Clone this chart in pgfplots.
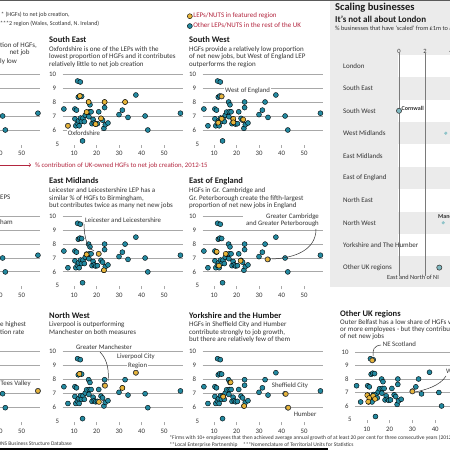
\documentclass[border=0pt]{standalone}
\usepackage{fontspec}
\setmainfont{Carlito}
\usepackage{pgfplots}
\pgfplotsset{compat=1.18}
\usepackage{pgfplotstable}
\definecolor{teal1}{HTML}{2389A0}
\definecolor{yel}{HTML}{E6B43A}
\definecolor{txt}{HTML}{333333}
\definecolor{ttl}{HTML}{1A1A1A}
\definecolor{gridc}{HTML}{A8A8A8}
\definecolor{vgrid}{HTML}{7A7A7A}
\definecolor{claret}{HTML}{B3263F}
\definecolor{panelbg}{HTML}{EBEBEB}
\definecolor{outl}{HTML}{3F3F3F}
\definecolor{lteal}{HTML}{8FC4C9}
\definecolor{cornf}{HTML}{7FB9C1}
\definecolor{topline}{HTML}{5A5A5A}
\newcommand\fs[1]{\fontsize{#1}{#1}\selectfont}

\pgfplotstableread{
x y
5.5 7.5
7.3 6.3
10.4 7.5
11.1 7.42
11.6 9.5
12.8 9.43
11.9 8.35
12.6 8.43
13.4 8.4
10.4 6.8
10.8 6.3
11.5 6.48
12.0 6.65
12.3 6.3
12.9 6.85
13.3 6.6
14.0 6.85
14.6 6.6
13.8 5.22
15.0 7.05
15.6 7.28
16.5 8.0
17.1 7.8
16.8 7.3
17.6 7.3
16.6 6.95
18.0 6.45
18.5 6.75
19.0 6.5
19.6 6.42
20.4 6.45
21.0 7.3
22.0 6.83
22.7 6.7
23.6 8.0
23.6 7.6
23.3 6.12
23.9 6.38
25.1 6.5
30.0 7.1
31.5 7.42
32.7 8.0
34.0 6.9
37.5 8.5
41.6 7.0
42.8 6.0
57.3 7.2
}\basepts

\pgfplotsset{
 tealp/.style={only marks, mark=*, mark size=2.5pt, mark options={fill=teal1, draw=none}},
 yelp/.style={only marks, mark=*, mark size=2.5pt, mark options={fill=yel, draw=none}},
 outp/.style={only marks, mark=*, mark size=2.5pt, mark options={fill=yel, draw=outl, line width=0.7pt}},
 dotlegend/.style={legend image code/.code={\draw[##1] plot coordinates {(0pt,0pt)};}},
 panel/.style={anchor=south west, xmin=4.9, xmax=58.3, ymin=4.95, ymax=10.05,
   axis x line*=bottom, axis y line*=left, axis line style={draw=none},
   xtick={10,20,30,40,50}, ytick={6,7,8,9,10},
   extra y ticks={5}, extra y tick style={grid=none, major tick length=0pt},
   ymajorgrids, major grid style={draw=gridc, line width=0.9pt},
   tick align=outside, major tick length=3pt,
   xtick style={draw=gridc, line width=0.5pt}, ytick style={draw=none},
   tick label style={font=\fs{6.8}, text=txt},
   /pgf/number format/assume math mode=true, clip=false},
 leftcol/.style={xtick={40,50}, yticklabels={}, extra y tick labels={}},
}
% #1 px of x=0, #2 py of y=10, #3 y unit, #4 x unit, #5 extra plots, #6 extra axis options
\newcommand\panel[6]{%
\begin{axis}[panel, x=#4pt, y=#3pt, at={({(#1+#4*4.9)*1pt},{(450-#2-5.05*#3)*1pt})}, #6]
\addplot[tealp, forget plot] table {\basepts};
#5
\end{axis}}
\newcommand\T[4][txt]{\node[anchor=base west, inner sep=0pt, text=#1] at (#2,450-#3) {#4};}
\tikzset{lab/.style={anchor=base west, inner sep=1pt, fill=white, text=txt, font=\fs{6.8}},
         lead/.style={draw=txt, line width=0.5pt}}

\begin{document}
\begin{tikzpicture}[x=1pt,y=1pt]
\begin{scope}
\clip (0,0) rectangle (450,450);
\fill[white] (0,0) rectangle (450,450);
\fill[panelbg] (330,163) rectangle (450,449);
\fill[topline] (0,448.7) rectangle (450,450);
\fill[black] (0,0) rectangle (328,2.4);

% ---- Row 1 ----
\panel{-91}{74}{14}{2.25}{}{leftcol}
\panel{51.5}{74}{14}{2.25}{%
 \addplot[yelp, forget plot] coordinates {(12.6,8.43)(16.5,8.0)(23.6,8.0)(32.7,8.0)(15.6,7.28)(22.0,6.83)(19.6,6.42)};
 \addplot[outp, forget plot] coordinates {(7.3,6.3)};
 \addlegendimage{yelp}\addlegendentry{LEPs/NUTS in featured region}
 \addlegendimage{tealp}\addlegendentry{Other LEPs/NUTS in the rest of the UK}
}{legend style={at={(1.037,1.861)}, anchor=north west, draw=none, fill=none, font=\fs{7}, text=claret, row sep=1.5pt, inner sep=0pt, nodes={inner sep=1pt}},
  legend cell align=left, dotlegend}
\panel{191.5}{74}{14}{2.25}{%
 \addplot[yelp, forget plot] coordinates {(11.9,6.52)(13.4,6.8)(18.6,6.8)(18.6,6.55)(23.0,6.75)};
 \addplot[outp, forget plot] coordinates {(13.4,8.4)};
}{}
% ---- Row 2 ----
\panel{-91}{216.3}{13.9}{2.25}{}{leftcol}
\panel{51.5}{216.3}{13.9}{2.25}{%
 \addplot[yelp, forget plot] coordinates {(15.6,7.25)(23.3,6.12)};
 \addplot[outp, forget plot] coordinates {(21.0,7.3)};
}{}
\panel{191.5}{216.3}{13.9}{2.25}{%
 \addplot[yelp, forget plot] coordinates {(11.2,7.45)(15.2,7.3)(12.2,6.45)(21.8,6.8)};
 \addplot[outp, forget plot] coordinates {(33.8,6.9)};
}{}
% ---- Row 3 ----
\panel{-91}{351.7}{14}{2.25}{%
 \addplot[outp, forget plot] coordinates {(57.3,7.2)};
}{leftcol}
\panel{51.5}{351.7}{14}{2.25}{%
 \addplot[yelp, forget plot] coordinates {(12.4,8.41)(31.5,7.41)(21.1,6.41)};
 \addplot[outp, forget plot] coordinates {(23.8,7.57)(37.5,8.5)};
}{}
\panel{191.5}{351.7}{14}{2.25}{%
 \addplot[yelp, forget plot] coordinates {(17.4,7.81)(14.1,6.79)(23.4,6.12)};
 \addplot[outp, forget plot] coordinates {(41.9,6.98)(43.0,6.0)};
}{}
\panel{344}{352}{13.5}{2.28}{%
 \addplot[yelp, forget plot] coordinates {(10.2,6.8)(11.1,6.6)(10.6,6.32)(12.8,6.75)(13.6,6.52)};
 \addplot[outp, forget plot] coordinates {(12.4,9.38)(30.0,7.08)};
}{}

% ---- Right panel: scaling businesses ----
\begin{axis}[anchor=south west, at={(398.35pt,171.2pt)}, x=13pt, y=22.4pt,
 xmin=-0.05, xmax=4, ymin=0.5, ymax=10.5, axis on top,
 axis x line*=top, axis y line*=left, axis line style={draw=none}, tick style={draw=none},
 xtick={0,2,4}, ytick={1,2,3,4,5,6,7,8,9,10},
 yticklabels={Other UK regions,Yorkshire and The Humber,North West,North East,East of England,East Midlands,West Midlands,South West,South East,London},
 clip=false,
 xticklabel style={font=\fs{6.5}, text=txt, inner sep=1pt},
 yticklabel style={font=\fs{7}, text=txt, anchor=west, inner sep=0pt, xshift=-55.4pt},
 /pgf/number format/assume math mode=true]
\addplot[draw=none, fill=white, forget plot] coordinates {(-0.05,9.5)(4,9.5)(4,10.5)(-0.05,10.5)};
\addplot[draw=none, fill=white, forget plot] coordinates {(-0.05,7.5)(4,7.5)(4,8.5)(-0.05,8.5)};
\addplot[draw=none, fill=white, forget plot] coordinates {(-0.05,5.5)(4,5.5)(4,6.5)(-0.05,6.5)};
\addplot[draw=none, fill=white, forget plot] coordinates {(-0.05,3.5)(4,3.5)(4,4.5)(-0.05,4.5)};
\addplot[draw=none, fill=white, forget plot] coordinates {(-0.05,1.5)(4,1.5)(4,2.5)(-0.05,2.5)};
\addplot[draw=vgrid, line width=0.8pt, forget plot] coordinates {(0,0.62)(0,10.6)};
\addplot[draw=vgrid, line width=0.8pt, forget plot] coordinates {(2,0.62)(2,10.6)};
\addplot[only marks, mark=*, mark size=1.4pt, color=lteal, mark options={fill=lteal, draw=none}] coordinates {(3.6,7)(3.4,3)};
\addplot[only marks, mark=*, mark size=2.6pt, color=outl, mark options={fill=cornf, draw=outl, line width=0.6pt}] coordinates {(0,8)(3.1,1)};
\end{axis}

% ---- texts ----
\T{1}{17}{\fs{6}* (HGFs) to net job creation,}
\T{0}{25.5}{\fs{6}***2 region (Wales, Scotland, N. Ireland)}
\T{0}{47.5}{\fs{7}tion of HGFs,}
\T{9.3}{55}{\fs{7}net job}
\T{0}{63.3}{\fs{7}ly low}
\T[ttl]{49}{43}{\fs{8.5}\bfseries South East}
\T{49}{51.6}{\fs{7}Oxfordshire is one of the LEPs with the}
\T{49}{58.9}{\fs{7}lowest proportion of HGFs and it contributes}
\T{49}{66.1}{\fs{7}relatively little to net job creation}
\T[ttl]{189}{43}{\fs{8.5}\bfseries South West}
\T{189}{51.6}{\fs{7}HGFs provide a relatively low proportion}
\T{189}{58.9}{\fs{7}of net new jobs, but West of England LEP}
\T{189}{66.1}{\fs{7}outperforms the region}
\node[lab] at (66.7,450-135.6) {Oxfordshire};
\node[lab] at (224,450-92.3) {West of England};

\draw[claret, line width=0.6pt, ->] (0,450-165) -- (31,450-165);
\T[claret]{35}{167.3}{\fs{6.8}\% contribution of UK-owned HGFs to net job creation, 2012-15}

\T{0}{199.3}{\fs{7}EPS}
\T{0}{224.3}{\fs{7}ham}
\T[ttl]{49}{184}{\fs{8.5}\bfseries East Midlands}
\T{49}{193}{\fs{7}Leicester and Leicestershire LEP has a}
\T{49}{200.3}{\fs{7}similar \% of HGFs to Birmingham,}
\T{49}{207.5}{\fs{7}but contributes twice as many net new jobs}
\T[ttl]{189}{184}{\fs{8.5}\bfseries East of England}
\T{189}{193}{\fs{7}HGFs in Gr. Cambridge and}
\T{189}{200.3}{\fs{7}Gr. Peterborough create the fifth-largest}
\T{189}{207.5}{\fs{7}proportion of net new jobs in England}
\fill[white] (82,450-218) rectangle (184,450-214.5);
\fill[white] (243,450-218) rectangle (324,450-214.5);
\draw[lead] (84,450-222) .. controls (84,450-240) and (88,450-248) .. (94,450-251);
\node[lab, inner sep=1.6pt] at (83.3,450-222.3) {Leicester and Leicestershire};
\draw[lead] (316,450-229) .. controls (316,450-250) and (295,450-258) .. (272,450-259);
\node[anchor=north east, align=right, fill=white, inner sep=1pt, text=txt, font=\fontsize{6.8}{7.4}\selectfont] at (320,450-212.5) {Greater Cambridge\\and Greater Peterborough};

\T{0}{326.3}{\fs{7}e highest}
\T{0}{334.6}{\fs{7}tion rate}
\node[lab, inner sep=0.5pt] at (0,450-385.8) {Tees Valley};
\T[ttl]{49}{318.5}{\fs{8.5}\bfseries North West}
\T{49}{326.3}{\fs{7}Liverpool is outperforming}
\T{49}{334.6}{\fs{7}Manchester on both measures}
\T[ttl]{189}{318.5}{\fs{8.5}\bfseries Yorkshire and the Humber}
\T{189}{326.3}{\fs{7}HGFs in Sheffield City and Humber}
\T{189}{334.1}{\fs{7}contribute strongly to job growth,}
\T{189}{341.5}{\fs{7}but there are relatively few of them}
\draw[lead] (100,450-352) .. controls (108,450-360) and (109,450-372) .. (108,450-381);
\node[lab] at (75,450-350) {Greater Manchester};
\node[lab] at (116,450-358.6) {Liverpool City};
\node[lab] at (127,450-368) {Region};
\node[lab] at (270.7,450-388) {Sheffield City};
\node[lab] at (292.7,450-416.6) {Humber};

\T[ttl]{340}{317}{\fs{8.5}\bfseries Other UK regions}
\T{340}{324.6}{\fs{7}Outer Belfast has a low share of HGFs with 10}
\T{340}{331.8}{\fs{7}or more employees - but they contribute a high share}
\T{340}{339}{\fs{7}of net new jobs}
\draw[lead] (381,450-345) .. controls (373,450-346) and (373,450-350) .. (373,450-356);
\draw[lead] (446,450-376) .. controls (440,450-386) and (425,450-390) .. (415,450-392);
\node[lab] at (381.7,450-346.3) {NE Scotland};
\node[lab] at (445,450-374) {West Wales};

\T[ttl]{335}{10.5}{\fs{10.5}\bfseries Scaling businesses}
\T[ttl]{335}{23}{\fs{9}\bfseries It’s not all about London}
\T{335}{31}{\fs{6.3}\% businesses that have ‘scaled’ from £1m to £10m}
\node[anchor=base west, inner sep=0pt, text=txt, font=\fs{6}\bfseries] at (401.5,450-110.6) {Cornwall};
\node[anchor=base west, inner sep=0pt, text=txt, font=\fs{6}\bfseries] at (438,450-219) {Manchester};
\node[anchor=base, inner sep=0pt, text=txt, font=\fs{6.3}] at (413,450-280) {East and North of NI};

\node[anchor=base east, inner sep=0pt, text=txt, font=\fs{5.5}] at (72,450-445.3) {Source: ONS Business Structure Database};
\T{169.3}{439.3}{\fs{5.5}*Firms with 10+ employees that then achieved average annual growth of at least 20 per cent for three consecutive years (2012-15)}
\T{169.3}{446}{\fs{5.5}**Local Enterprise Partnership\quad ***Nomenclature of Territorial Units for Statistics}
\end{scope}
\pgfresetboundingbox
\useasboundingbox (0,0) rectangle (450,450);
\end{tikzpicture}
\end{document}
